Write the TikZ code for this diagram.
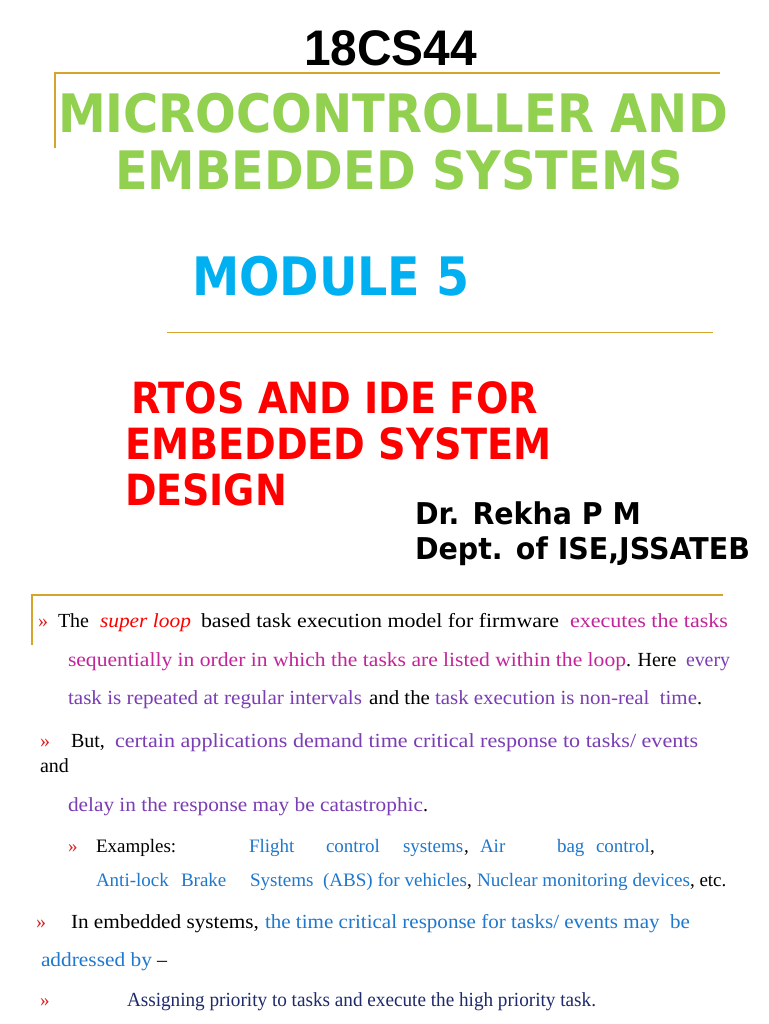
\documentclass[tikz,border=0pt]{standalone}
\usepackage{fontspec}
\setmainfont{Liberation Serif}
\newfontfamily\dvs{DejaVu Sans}
\newfontfamily\lsans{Liberation Sans}
\usepackage{graphicx}
\definecolor{gold}{HTML}{D4A52A}
\definecolor{tgreen}{HTML}{92D050}
\definecolor{tblue}{HTML}{00B0F0}
\definecolor{tred}{HTML}{FF0000}
\definecolor{mag}{HTML}{C2259A}
\definecolor{purp}{HTML}{7A3DB3}
\definecolor{lblue}{HTML}{1F78CC}
\definecolor{navy}{HTML}{1F2A6B}
\definecolor{bul}{HTML}{E0201F}
\newcommand{\seg}[4][]{\node[txt,#1] at (#2,#3) {#4};}
\newcommand{\wseg}[5][]{\node[txt,#1] at (#2,#3) {\resizebox{#4pt}{\height}{#5}};}
\begin{document}
\begin{tikzpicture}[x=1pt,y=-1pt,
  txt/.style={anchor=base west,inner sep=0pt,outer sep=0pt},
  rule/.style={draw=gold,line width=1.3pt},
  body/.style={font=\fontsize{20}{24}\selectfont},
  small/.style={font=\fontsize{19}{22}\selectfont},
  ttl/.style={font=\fontsize{53}{60}\dvs\bfseries}]
\useasboundingbox[fill=white] (0,0) rectangle (768,1024);
% header
\node[txt,font=\fontsize{50}{58}\lsans\bfseries] (code) at (304,66) {\resizebox{173pt}{\height}{18CS44}};
\draw[rule] (720,73) -- (55,73) -- (55,148);
\node[txt,ttl,text=tgreen] (t1) at (58,133) {\resizebox{670pt}{\height}{MICROCONTROLLER AND}};
\node[txt,ttl,text=tgreen] (t2) at (115,190) {\resizebox{568pt}{\height}{EMBEDDED SYSTEMS}};
\node[txt,ttl,text=tblue] (t3) at (192,295) {\resizebox{278pt}{\height}{MODULE 5}};
\draw[draw=gold,line width=0.8pt] (167,332) -- (713,332);
\node[txt,font=\fontsize{43}{48}\dvs\bfseries,text=tred] (r1) at (131,413) {\resizebox{407pt}{\height}{RTOS AND IDE FOR}};
\node[txt,font=\fontsize{43}{48}\dvs\bfseries,text=tred] (r2) at (125,459) {\resizebox{427pt}{\height}{EMBEDDED SYSTEM}};
\node[txt,font=\fontsize{43}{48}\dvs\bfseries,text=tred] (r3) at (125,505) {\resizebox{162pt}{\height}{DESIGN}};
\node[txt,font=\fontsize{30}{34}\dvs\bfseries] (a1) at (415,524) {\resizebox{226pt}{\height}{Dr. Rekha P M}};
\node[txt,font=\fontsize{30}{34}\dvs\bfseries] (a2) at (415,559) {\resizebox{335pt}{\height}{Dept. of ISE,JSSATEB}};
\draw[rule] (723,595) -- (32,595) -- (32,645);
% body line 1
\seg[body,text=bul]{38}{627}{»}
\seg[body]{58}{627}{The}
\wseg[body,text=tred]{100}{627}{91}{\itshape super loop}
\wseg[body]{201}{627}{358}{based task execution model for firmware}
\wseg[body,text=mag]{570}{627}{158}{executes the tasks}
% line 2
\wseg[body,text=mag]{68}{666}{558}{sequentially in order in which the tasks are listed within the loop}
\seg[body]{626}{666}{. Here}
\wseg[body,text=purp]{686}{666}{44}{every}
% line 3
\wseg[body,text=purp]{68}{704}{294}{task is repeated at regular intervals}
\wseg[body]{369}{704}{61}{and the}
\wseg[body,text=purp]{435}{704}{262}{task execution is non-real\ \ time}
\seg[body]{697}{704}{.}
% line 4
\seg[body,text=bul]{40}{747}{»}
\seg[body]{71}{747}{But,}
\wseg[body,text=purp]{115}{747}{583}{certain applications demand time critical response to tasks/ events}
\seg[body]{40}{772}{and}
\wseg[body,text=purp]{68}{811}{355}{delay in the response may be catastrophic}
\seg[body]{423}{811}{.}
% examples
\seg[small,text=bul]{68}{852}{»}
\seg[small]{96}{852}{Examples:}
\seg[small,text=lblue]{249}{852}{Flight}
\seg[small,text=lblue]{326}{852}{control}
\seg[small,text=lblue]{403}{852}{systems}
\seg[small]{464}{852}{,}
\seg[small,text=lblue]{480}{852}{Air}
\seg[small,text=lblue]{557}{852}{bag}
\seg[small,text=lblue]{596}{852}{control}
\seg[small]{650}{852}{,}
\seg[small,text=lblue]{96}{886}{Anti-lock}
\seg[small,text=lblue]{181}{886}{Brake}
\wseg[small,text=lblue]{250}{886}{217}{Systems\ \ (ABS) for vehicles}
\seg[small]{467}{886}{,}
\wseg[small,text=lblue]{477}{886}{213}{Nuclear monitoring devices}
\seg[small]{690}{886}{, etc.}
% line 9
\seg[body,text=bul]{36}{928}{»}
\wseg[body]{71}{928}{188}{In embedded systems,}
\wseg[body,text=lblue]{265}{928}{425}{the time critical response for tasks/ events may\ \ be}
\wseg[body,text=lblue]{41}{966}{111}{addressed by}
\seg[body]{157}{966}{–}
\seg[small,text=bul]{40}{1006}{»}
\wseg[body,text=navy]{127}{1006}{469}{Assigning priority to tasks and execute the high priority task.}
\end{tikzpicture}
\end{document}
